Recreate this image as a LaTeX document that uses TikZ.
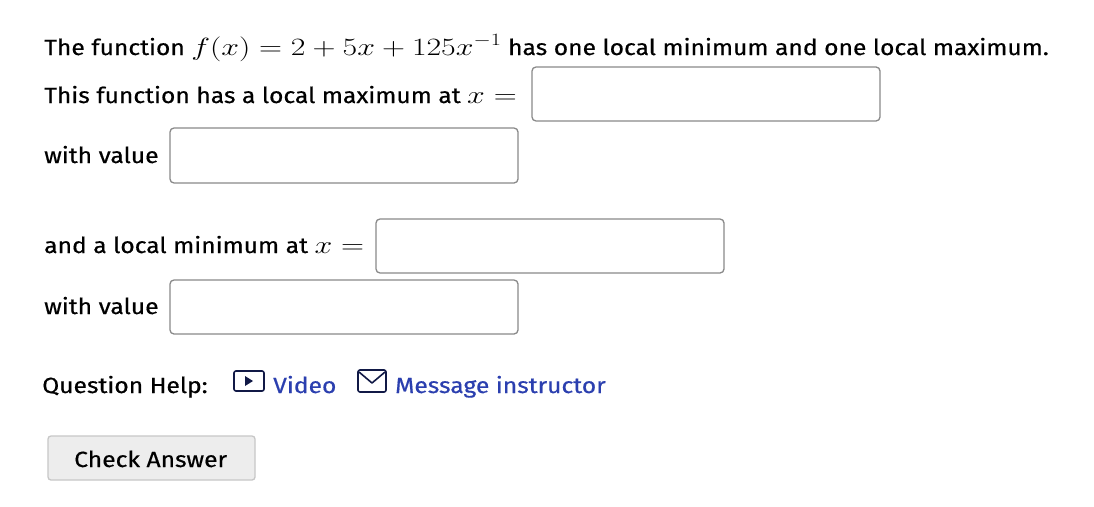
\documentclass[tikz,border=0pt]{standalone}
\usepackage{fontspec}
\usepackage{graphicx}
\setmainfont{Fira Sans}[FakeStretch=1.12,FakeBold=0.5]
\definecolor{linkblue}{HTML}{2B3FAF}
\definecolor{boxgray}{HTML}{8A8A8A}
\newcommand{\mth}[1]{\scalebox{1.28}[1]{\fontsize{26}{28}\selectfont$#1$}}
\begin{document}
\begin{tikzpicture}[x=1pt,y=-1pt,
  txt/.style={anchor=base west,inner sep=0,font=\fontsize{22}{26}\selectfont},
  inbox/.style={draw=boxgray,line width=1.3pt,rounded corners=4pt,fill=white}]
\useasboundingbox[fill=white] (0,0) rectangle (1094,506);
\node[txt] (l1) at (44,55) {The function \mth{f(x)=2+5x+125x^{-1}} has one local minimum and one local maximum.};
\node[txt] (l2) at (44,103) {This function has a local maximum at \mth{x=}};
\draw[inbox] (532,67) rectangle (880,121);
\node[txt] (l3) at (44,163) {with value};
\draw[inbox] (170,128) rectangle (518,183);
\node[txt] (l4) at (44,253) {and a local minimum at \mth{x=}};
\draw[inbox] (376,219) rectangle (724,273);
\node[txt] (l5) at (44,314) {with value};
\draw[inbox] (170,280) rectangle (518,334);
\node[txt] (qh) at (42,393) {Question Help:};
\draw[linkblue!40!black,line width=1.6pt,rounded corners=2pt] (234,371) rectangle (264,391);
\fill[linkblue!40!black] (245,376) -- (245,386) -- (253,381) -- cycle;
\node[txt,text=linkblue] (vid) at (273,393) {Video};
\draw[linkblue!40!black,line width=1.6pt,rounded corners=2pt] (358,370) rectangle (386,392);
\draw[linkblue!40!black,line width=1.6pt,line join=round] (359,372) -- (372,383) -- (385,372);
\node[txt,text=linkblue] (msg) at (395,393) {Message instructor};
\draw[draw=black!22,fill=black!7,line width=1.3pt,rounded corners=3pt] (48,436) rectangle (255,480);
\node[txt] (chk) at (74,467) {Check Answer};
\end{tikzpicture}
\end{document}
